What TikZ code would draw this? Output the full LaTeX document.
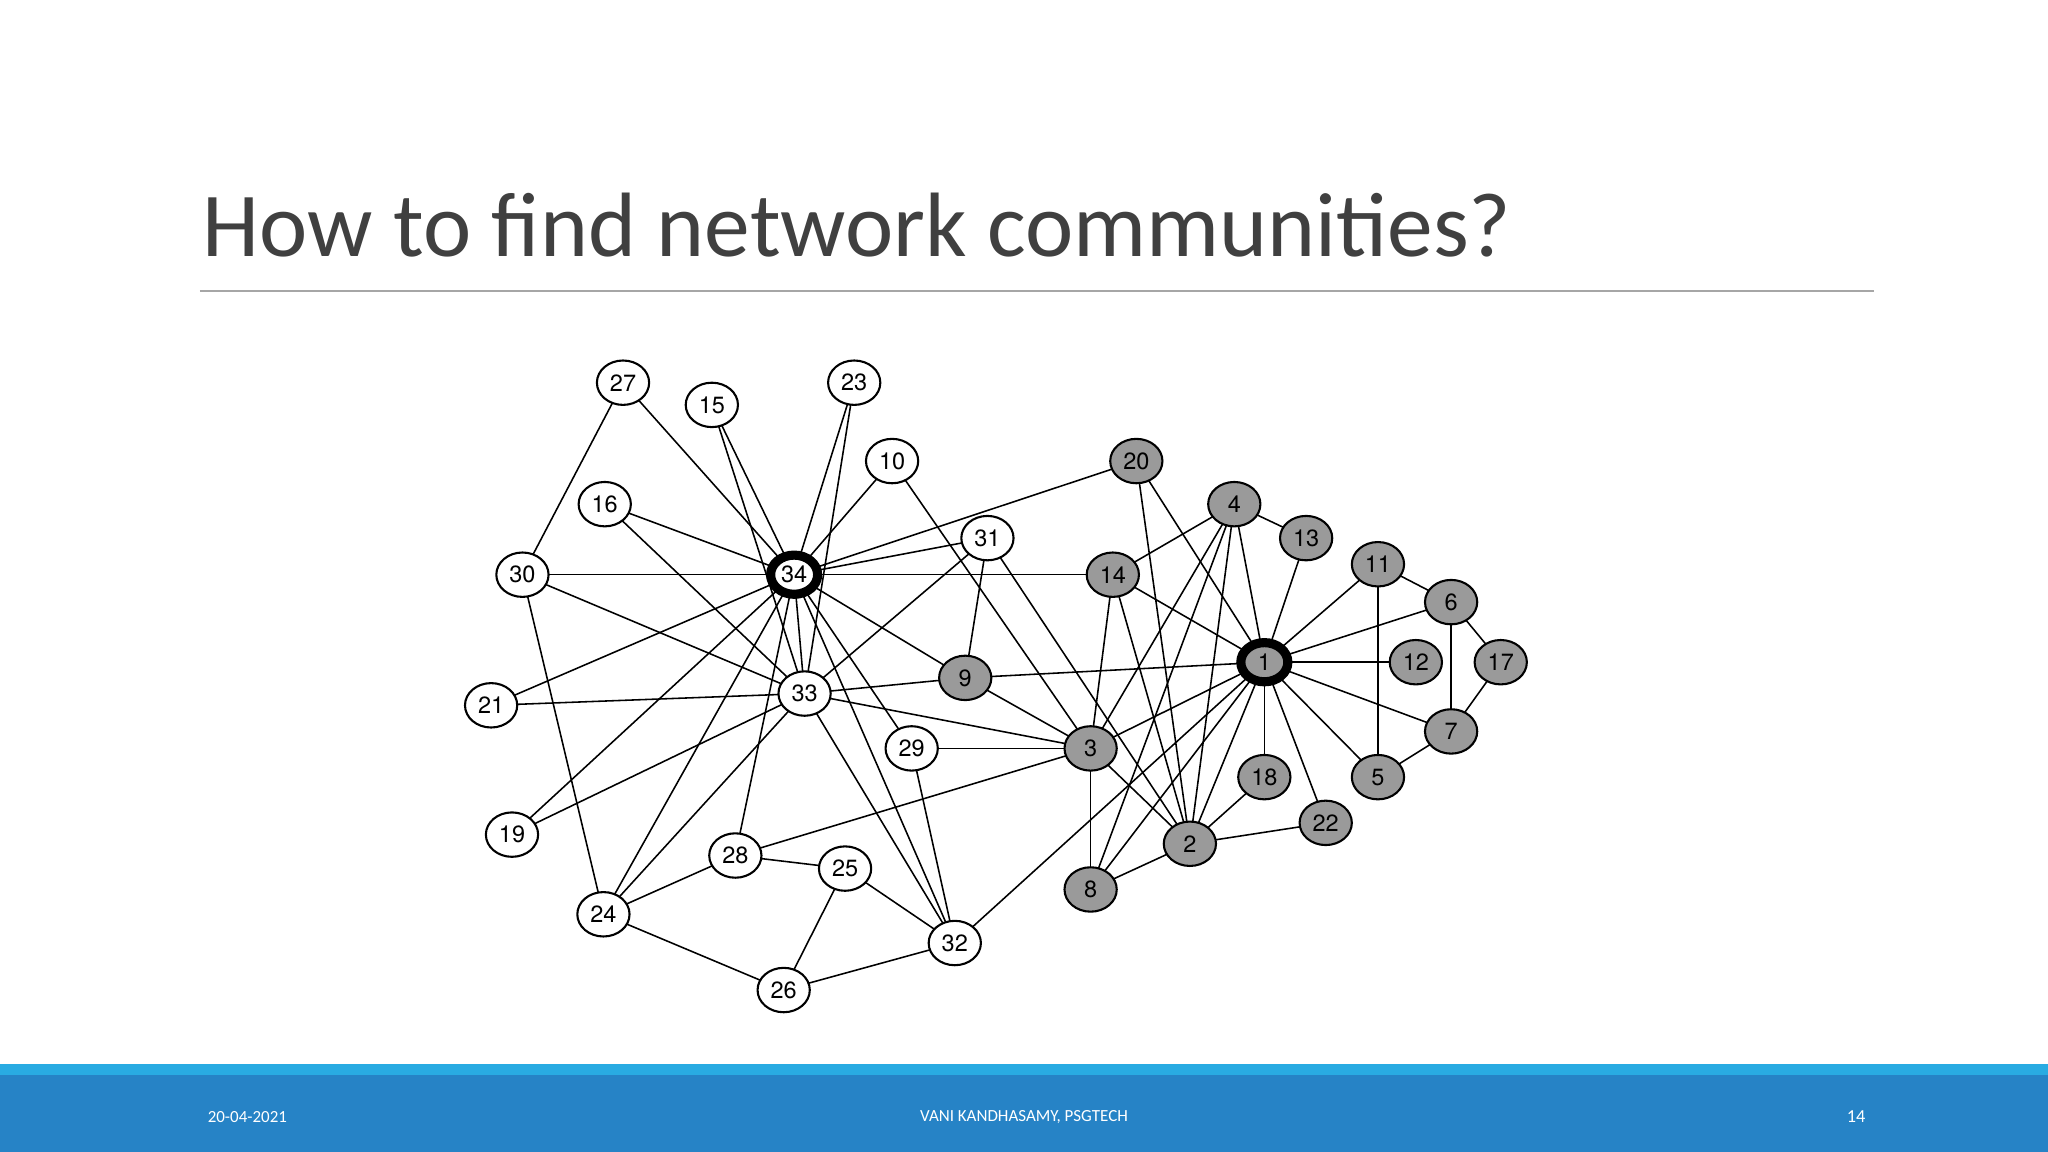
\documentclass[tikz,border=0pt]{standalone}
\usepackage{fontspec}
\setmainfont{Carlito}
\newfontfamily\helv{TeX Gyre Heros}
\definecolor{titlegray}{HTML}{404040}
\definecolor{lightblue}{HTML}{29ABE2}
\definecolor{darkblue}{HTML}{2683C6}
\definecolor{nodegray}{HTML}{9A9A9A}
\begin{document}
\begin{tikzpicture}[x=0.5pt,y=-0.5pt,
  vtx/.style={ellipse,draw,line width=0.8pt,minimum width=20pt,minimum height=17pt,inner sep=0pt,font=\helv\fontsize{9}{9}\selectfont,fill=white},
  gv/.style={vtx,fill=nodegray},
  hub/.style={line width=3.5pt,minimum width=18pt,minimum height=15pt},
  edge/.style={line width=0.6pt}]
\usetikzlibrary{shapes.geometric}
\useasboundingbox (0,0) rectangle (1568,882);
\fill[white] (0,0) rectangle (1568,882);
\node[anchor=west,text=titlegray,font=\fontsize{35}{40}\selectfont] (title) at (148,172) {How to find network communities?};
\draw[gray!70,line width=0.6pt] (153,223) -- (1435,223);
\fill[lightblue] (0,815) rectangle (1568,823);
\fill[darkblue] (0,823) rectangle (1568,882);
\node[text=white,font=\fontsize{6.5}{7}\selectfont,anchor=west] (date) at (152,855) {20-04-2021};
\node[text=white,font=\fontsize{6.5}{7}\selectfont] (auth) at (784,855) {VANI KANDHASAMY, PSGTECH};
\node[text=white,font=\fontsize{7}{8}\selectfont] (pg) at (1421,855) {14};
% white nodes
\foreach \n/\x/\y in {27/477/293,15/545/310,23/654/293,10/683/353,16/463/386,31/756/412,30/400/440,21/376/540,33/616/531,29/698/573,19/392/639,28/563/655,25/647/665,24/462/700,32/731/722,26/600/758}
  \coordinate (c\n) at (\x,\y);
\foreach \n/\x/\y in {20/870/353,4/945/386,13/1000/412,11/1055/432,14/852/440,6/1111/461,12/1084/507,17/1149/507,9/739/519,3/835/573,7/1111/560,18/968/595,5/1055/595,22/1015/630,2/911/646,8/835/681}
  \coordinate (c\n) at (\x,\y);
\coordinate (c34) at (608,440);
\coordinate (c1) at (968,507);
\foreach \a/\b in {1/2,1/3,1/4,1/5,1/6,1/7,1/8,1/9,1/11,1/12,1/13,1/14,1/18,1/20,1/22,1/32,
 2/3,2/4,2/8,2/14,2/18,2/20,2/22,2/31,3/4,3/8,3/9,3/10,3/14,3/28,3/29,3/33,
 4/8,4/13,4/14,5/7,5/11,6/7,6/11,6/17,7/17,9/31,9/33,9/34,10/34,14/34,15/33,15/34,
 16/33,16/34,19/33,19/34,20/34,21/33,21/34,23/33,23/34,24/26,24/28,24/30,24/33,24/34,
 25/26,25/28,25/32,26/32,27/30,27/34,28/34,29/32,29/34,30/33,30/34,31/33,31/34,32/33,32/34,33/34}
  \draw[edge] (c\a) -- (c\b);
\foreach \n in {27,15,23,10,16,31,30,21,33,29,19,28,25,24,32,26}
  \node[vtx] (n\n) at (c\n) {\n};
\foreach \n in {20,4,13,11,14,6,12,17,9,3,7,18,5,22,2,8}
  \node[gv] (n\n) at (c\n) {\n};
\node[vtx,hub] (n34) at (c34) {34};
\node[gv,hub] (n1) at (c1) {1};
\end{tikzpicture}
\end{document}
